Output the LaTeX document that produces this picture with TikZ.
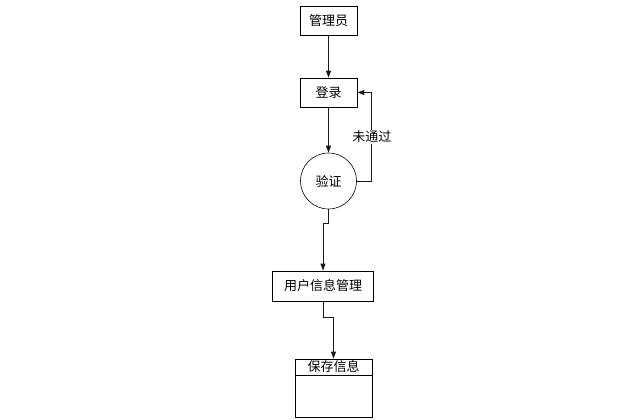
\documentclass[tikz,border=0pt]{standalone}
\usepackage{fontspec}
\newfontfamily\cjk{Noto Sans CJK SC}
\usetikzlibrary{arrows.meta}
\begin{document}
\begin{tikzpicture}[x=1pt,y=-1pt,
  every node/.style={font=\cjk\fontsize{13}{15}\selectfont},
  boxnode/.style={draw=black,line width=0.8pt,minimum height=29pt,inner sep=0pt,fill=white},
  circnode/.style={draw=black,line width=0.6pt,circle,minimum size=56pt,inner sep=0pt},
  conn/.style={draw=black!90,line width=0.9pt,-{Triangle[length=7pt,width=5pt]}},
  lbl/.style={fill=white,inner sep=1pt}]
\useasboundingbox (0,0) rectangle (630,420);
\node[boxnode,minimum width=57pt] (gly) at (328.5,20.5) {管理员};
\node[boxnode,minimum width=57pt] (dl) at (328.5,92.5) {登录};
\node[circnode] (yz) at (328.5,181) {验证};
\node[boxnode,minimum width=101pt,minimum height=30pt] (yh) at (323,286) {用户信息管理};
\node[draw=black,line width=0.8pt,minimum width=77pt,minimum height=58pt,inner sep=0pt] (bc) at (333.5,388) {};
\node[anchor=north,inner sep=0pt,minimum height=16pt] (bct) at (bc.north) {保存信息};
\draw[black,line width=0.8pt] (bc.west |- bct.south) -- (bc.east |- bct.south);
\draw[conn] (gly.south) -- (dl.north);
\draw[conn] (dl.south) -- (yz.north);
\draw[conn] (yz.east) -- ++(15,0) coordinate (c1) |- (dl.east)
  node[lbl,pos=0.25] {未通过};
\draw[conn] (yz.south) -- ++(0,14) -| (yh.north);
\draw[conn] (yh.south) -- ++(0,16) -| (bc.north);
\end{tikzpicture}
\end{document}
